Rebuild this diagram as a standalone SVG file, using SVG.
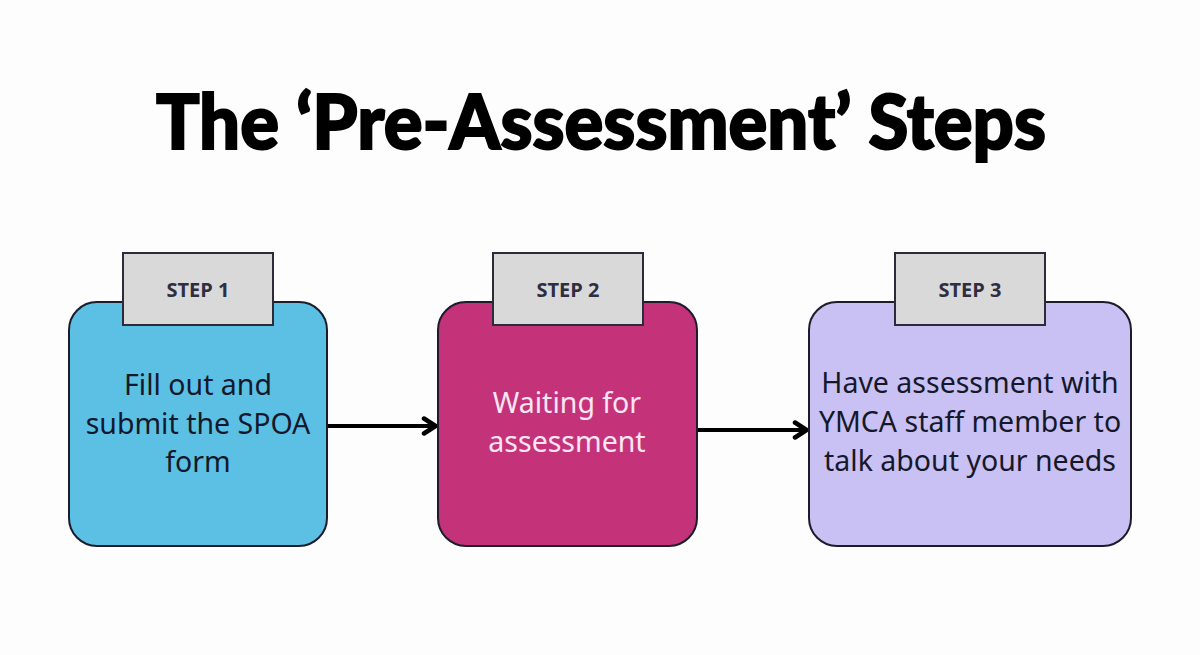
<svg xmlns="http://www.w3.org/2000/svg" width="1200" height="655" viewBox="0 0 1200 655">
<defs>
<marker id="ah" viewBox="0 0 18 20" refX="15" refY="10" markerWidth="18" markerHeight="20" markerUnits="userSpaceOnUse" orient="auto">
<path d="M3,2.5 L14.5,10 L3,17.5" fill="none" stroke="#000" stroke-width="4.5" stroke-linecap="round" stroke-linejoin="round"/>
</marker>
<style>
.box{stroke:#1c1c2b;stroke-width:2}
.tab{fill:#d9d9d9;stroke:#2b2b3a;stroke-width:2}
.tabt{font-family:"Open Sans","Noto Sans",sans-serif;font-weight:700;font-size:20px;fill:#2e2e40;text-anchor:middle}
.body{font-family:"Noto Sans","Open Sans",sans-serif;font-size:28.5px;text-anchor:middle}
.conn{stroke:#000;stroke-width:4;fill:none}
</style>
</defs>
<rect width="1200" height="655" fill="#fdfdfd"/>
<text x="601" y="149" font-family="Lato,'Liberation Sans',sans-serif" font-weight="900" font-size="76" text-anchor="middle" fill="#000" stroke="#000" stroke-width="2" textLength="890" lengthAdjust="spacingAndGlyphs">The ‘Pre-Assessment’ Steps</text>
<g id="connectors">
<line class="conn" x1="327" y1="426" x2="436" y2="426" marker-end="url(#ah)"/>
<line class="conn" x1="698" y1="430" x2="807" y2="430" marker-end="url(#ah)"/>
</g>
<g id="step1">
<rect class="box" x="69" y="302" width="258" height="244" rx="28" fill="#5bc0e3"/>
<rect class="tab" x="123" y="253" width="150" height="72"/>
<text class="tabt" x="198" y="297">STEP 1</text>
<text class="body" fill="#15182a"><tspan x="198" y="395">Fill out and</tspan><tspan x="198" y="433.5">submit the SPOA</tspan><tspan x="198" y="472">form</tspan></text>
</g>
<g id="step2">
<rect class="box" x="438" y="302" width="259" height="244" rx="28" fill="#c4337a"/>
<rect class="tab" x="493" y="253" width="150" height="72"/>
<text class="tabt" x="568" y="297">STEP 2</text>
<text class="body" fill="#fbe6f2"><tspan x="567" y="413">Waiting for</tspan><tspan x="567" y="452">assessment</tspan></text>
</g>
<g id="step3">
<rect class="box" x="809" y="302" width="322" height="244" rx="28" fill="#c9c1f3"/>
<rect class="tab" x="895" y="253" width="150" height="72"/>
<text class="tabt" x="970" y="297">STEP 3</text>
<text class="body" fill="#15182a"><tspan x="970" y="393">Have assessment with</tspan><tspan x="970" y="432">YMCA staff member to</tspan><tspan x="970" y="471">talk about your needs</tspan></text>
</g>
</svg>
